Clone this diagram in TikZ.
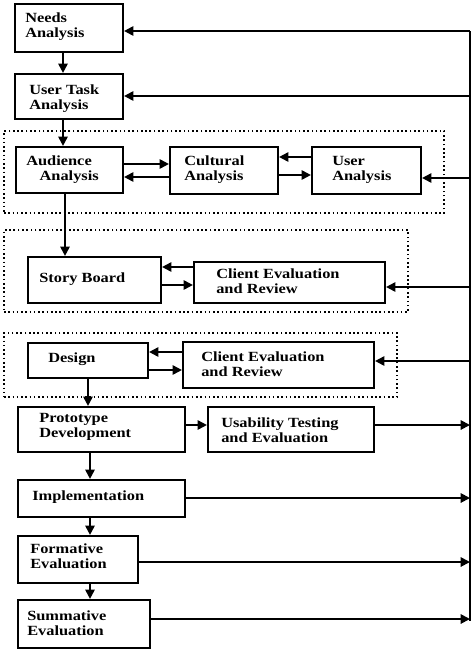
\documentclass[tikz,border=0pt]{standalone}
\usepackage{fontspec}
\setmainfont[FakeStretch=1.17]{Liberation Serif}
\usetikzlibrary{fit,arrows.meta}
\begin{document}
\begin{tikzpicture}[x=0.75pt,y=-0.75pt,
  box/.style={draw, line width=1.6pt, inner sep=0pt},
  grp/.style={draw, dotted, line width=1.2pt, inner sep=0pt},
  txt/.style={anchor=west, align=left, inner sep=0pt, font=\bfseries\fontsize{10.5}{11.3}\selectfont},
  arr/.style={line width=1.4pt, -{Triangle[length=7pt,width=7pt]}},
  ln/.style={line width=1.5pt}]
\useasboundingbox (0,0) rectangle (474,653);
% groups
\node[grp, fit={(4,131) (444,213)}] (g1) {};
\node[grp, fit={(4,230) (408,312)}] (g2) {};
\node[grp, fit={(4,333) (397,397)}] (g3) {};
% boxes
\node[box, fit={(15,4) (123,52)}] (na) {};
\node[box, fit={(15,74) (123,119)}] (uta) {};
\node[box, fit={(16,147) (123,193)}] (aud) {};
\node[box, fit={(170,147) (278,194)}] (cul) {};
\node[box, fit={(312,147) (421,194)}] (usr) {};
\node[box, fit={(28,257) (161,303)}] (sb) {};
\node[box, fit={(194,262) (385,303)}] (ce1) {};
\node[box, fit={(28,343) (148,378)}] (des) {};
\node[box, fit={(183,342) (374,388)}] (ce2) {};
\node[box, fit={(18,407) (185,452)}] (pro) {};
\node[box, fit={(208,407) (374,452)}] (ute) {};
\node[box, fit={(18,480) (185,517)}] (imp) {};
\node[box, fit={(18,536) (138,583)}] (fe) {};
\node[box, fit={(18,600) (150,648)}] (se) {};
% texts
\node[txt] (tna) at (25,26.5) {Needs\\Analysis};
\node[txt] (tuta) at (29,98.5) {User Task\\Analysis};
\node[txt] (taud) at (26,169.5) {Audience\\\hspace*{10pt}Analysis};
\node[txt] (tcul) at (184,169.5) {Cultural\\Analysis};
\node[txt] (tusr) at (332,169.5) {User\\Analysis};
\node[txt] (tsb) at (39,279) {Story Board};
\node[txt] (tce1) at (216,281) {Client Evaluation\\and Review};
\node[txt] (tdes) at (48,359) {Design};
\node[txt] (tce2) at (201,364.5) {Client Evaluation\\and Review};
\node[txt] (tpro) at (39,426.5) {Prototype\\Development};
\node[txt] (tute) at (221,430.5) {Usability Testing\\and Evaluation};
\node[txt] (timp) at (32,497) {Implementation};
\node[txt] (tfe) at (30,556.5) {Formative\\Evaluation};
\node[txt] (tse) at (27,623.5) {Summative\\Evaluation};
% rail
\coordinate (rt) at (470,31);
\coordinate (rb) at (470,621);
\draw[ln] (rt) -- (rb);
% vertical flow
\draw[arr] (63,0 |- na.south) -- (63,0 |- uta.north);
\draw[arr] (63,0 |- uta.south) -- (63,0 |- aud.north);
\draw[arr] (65,0 |- aud.south) -- (65,0 |- sb.north);
\draw[arr] (88,0 |- des.south) -- (88,0 |- pro.north);
\draw[arr] (90,0 |- pro.south) -- (90,0 |- imp.north);
\draw[arr] (90,0 |- imp.south) -- (90,0 |- fe.north);
\draw[arr] (90,0 |- fe.south) -- (90,0 |- se.north);
% horizontal pairs
\draw[arr] (aud.east |- 0,164) -- (cul.west |- 0,164);
\draw[arr] (cul.west |- 0,177) -- (aud.east |- 0,177);
\draw[arr] (usr.west |- 0,157) -- (cul.east |- 0,157);
\draw[arr] (cul.east |- 0,175) -- (usr.west |- 0,175);
\draw[arr] (ce1.west |- 0,267) -- (sb.east |- 0,267);
\draw[arr] (sb.east |- 0,285) -- (ce1.west |- 0,285);
\draw[arr] (ce2.west |- 0,352) -- (des.east |- 0,352);
\draw[arr] (des.east |- 0,370) -- (ce2.west |- 0,370);
\draw[arr] (pro.east |- 0,425) -- (ute.west |- 0,425);
% feedback from rail
\draw[arr] (rt) -- (na.east |- rt);
\draw[arr] (rt |- 0,96) -- (uta.east |- 0,96);
\draw[arr] (rt |- 0,178) -- (usr.east |- 0,178);
\draw[arr] (rt |- 0,287) -- (ce1.east |- 0,287);
\draw[arr] (rt |- 0,361) -- (ce2.east |- 0,361);
% into rail
\draw[arr] (ute.east |- 0,425) -- (rt |- 0,425);
\draw[arr] (imp.east |- 0,498) -- (rt |- 0,498);
\draw[arr] (fe.east |- 0,562) -- (rt |- 0,562);
\draw[arr] (se.east |- 0,619) -- (rt |- 0,619);
\end{tikzpicture}
\end{document}
